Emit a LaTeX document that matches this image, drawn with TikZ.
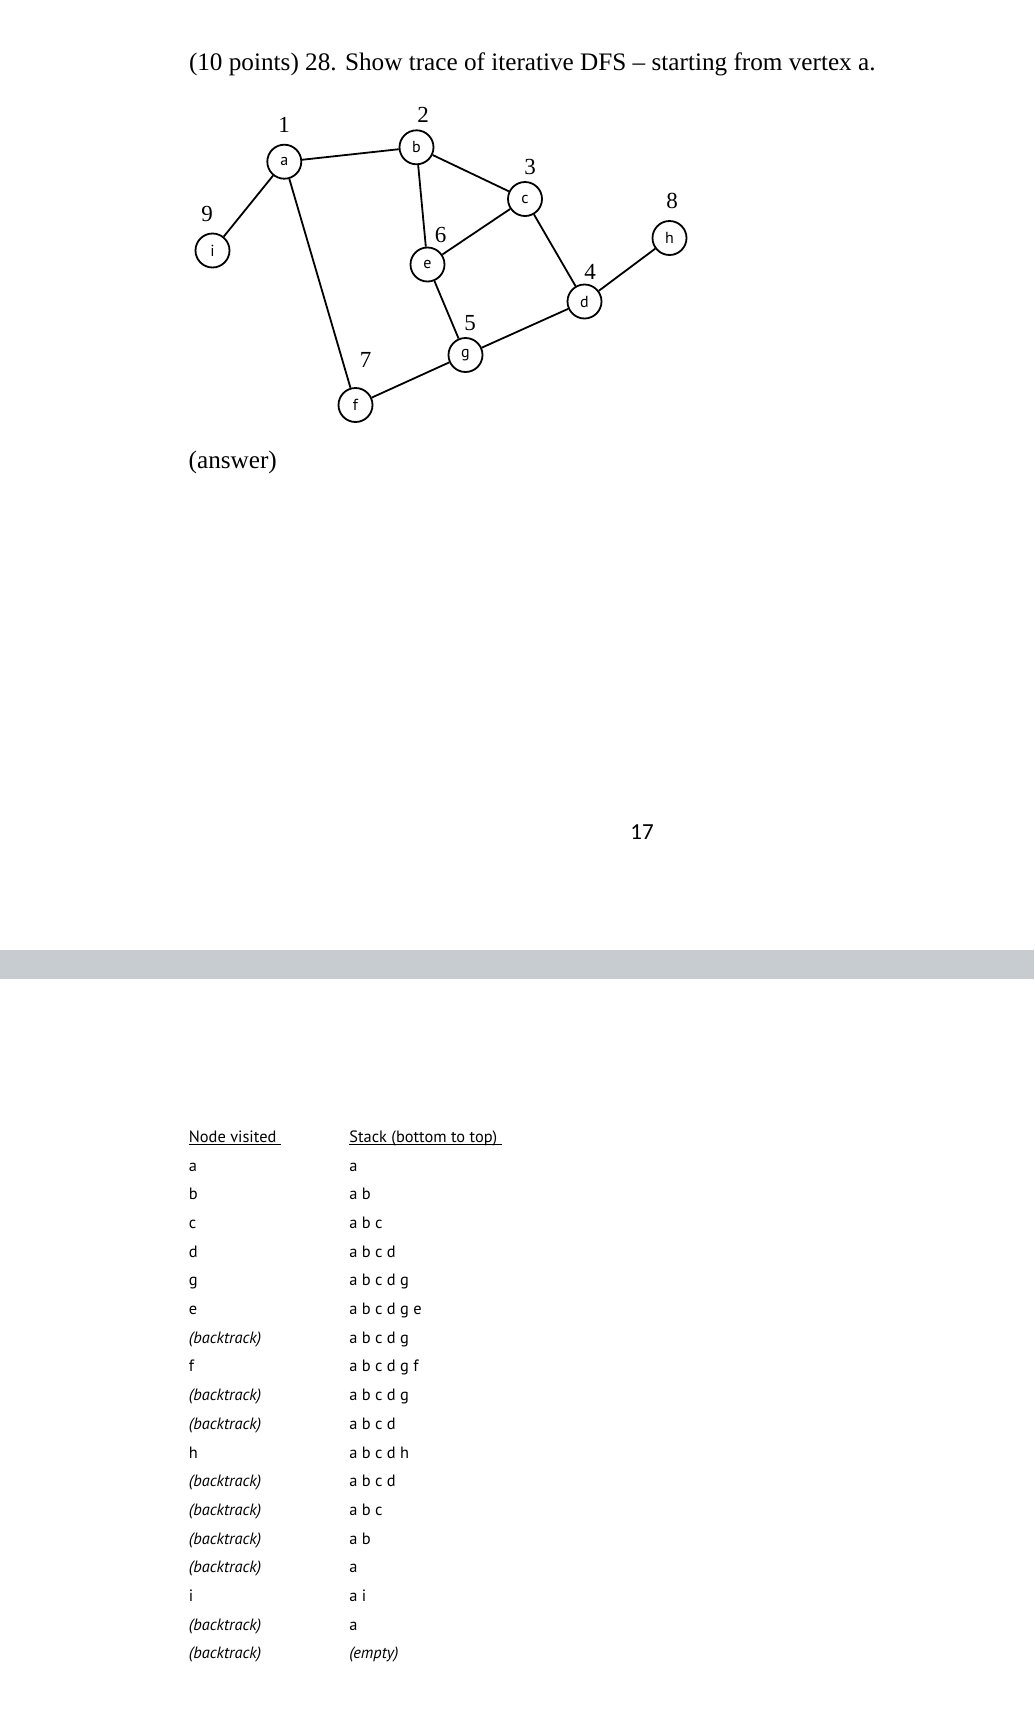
\documentclass[tikz,border=0pt]{standalone}
\usepackage{fontspec}
\setmainfont{Liberation Serif}
\newfontfamily\calfont{Carlito}
\newfontfamily\tabfont{PT Sans}
\usepackage{tikz}
\definecolor{bandgray}{RGB}{199,204,208}
\newcommand{\backtrk}{\textit{(backtrack)}}

\begin{document}
\begin{tikzpicture}[
    x = 0.5pt, y = -0.5pt,
    vertex/.style = {draw, line width=0.9pt, circle, minimum size=17pt,
        inner sep=0pt, font=\tabfont\fontsize{8}{9}\selectfont},
    num/.style = {inner sep=0pt, font=\fontsize{11.5}{13}\selectfont},
    cell/.style = {anchor=base west, inner sep=0pt,
        font=\tabfont\fontsize{8.2}{10}\selectfont},
    edge/.style = {line width=0.9pt}
  ]
  \useasboundingbox (0,0) rectangle (1034,1719);

  \node[anchor=west, inner sep=0pt, font=\fontsize{12.6}{14}\selectfont] (title) at (188.6,64)
    {(10 points) 28. Show trace of iterative DFS -- starting from vertex a.};

  % graph
  \foreach \v/\x/\y in {a/284.3/161.7, b/416.5/147.3, c/525/199, i/212.5/250.5,
      e/427.5/264.5, h/669.5/238, d/584.5/301.5, g/465.5/355, f/355.5/405}
  \node[vertex] (\v) at (\x,\y) {\v};

  \foreach \p/\q in {a/b, a/i, a/f, b/c, b/e, c/e, c/d, d/h, d/g, e/g, g/f}
  \draw[edge] (\p) -- (\q);

  \foreach \n/\x/\y in {1/284/125, 2/423/114.5, 3/530/166.5, 4/590/272, 5/470/323.5,
      6/440.5/235, 7/365.5/360, 8/672/201, 9/207/214}
  \node[num] (n\n) at (\x,\y) {\n};

  \node[anchor=west, inner sep=0pt, font=\fontsize{12.6}{14}\selectfont] (answer) at (188.3,462) {(answer)};

  \node[inner sep=0pt, font=\calfont\fontsize{11.5}{13}\selectfont] (page) at (642,832) {17};

  \fill[bandgray] (0,949.5) rectangle (1034,979);

  % trace table
  \node[cell] (hvisit) at (188.5,1142.7) {Node visited};
  \node[cell] (hstack) at (349,1142.7) {Stack (bottom to top)};
  \draw[line width=0.5pt] ([yshift=-0.9pt]hvisit.base west) -- ([xshift=2pt,yshift=-0.9pt]hvisit.base east);
  \draw[line width=0.5pt] ([yshift=-0.9pt]hstack.base west) -- ([xshift=2pt,yshift=-0.9pt]hstack.base east);

  \foreach \v/\s [count=\i from 0] in {a/a, b/a b, c/a b c, d/a b c d, g/a b c d g,
      e/a b c d g e, \backtrk/a b c d g, f/a b c d g f, \backtrk/a b c d g,
      \backtrk/a b c d, h/a b c d h, \backtrk/a b c d, \backtrk/a b c,
      \backtrk/a b, \backtrk/a, i/a i, \backtrk/a, \backtrk/\textit{(empty)}}
  {
    \node[cell] (visit-\i) at (188.5,{1171+28.7*\i}) {\v};
    \node[cell] (stack-\i) at (349,{1171+28.7*\i}) {\s};
  }
\end{tikzpicture}
\end{document}
